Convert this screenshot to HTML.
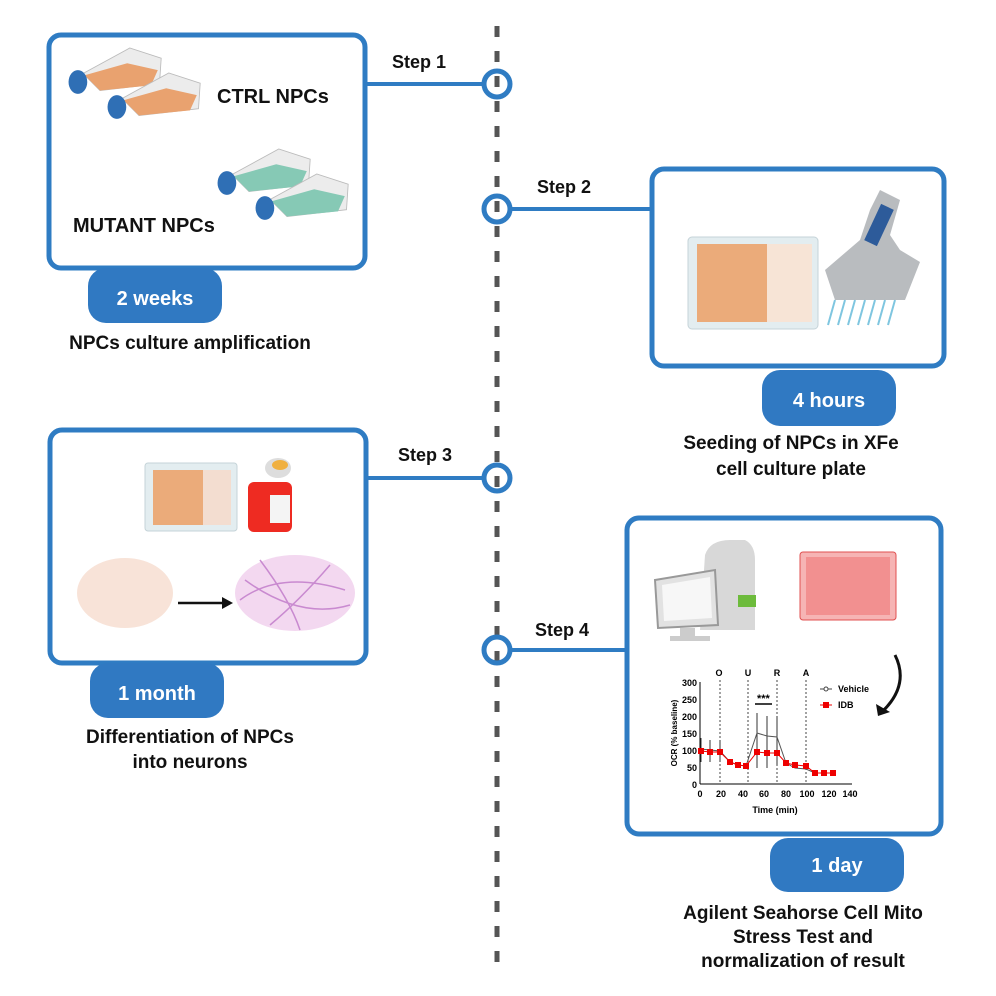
<!DOCTYPE html>
<html><head><meta charset="utf-8"><style>
html,body{margin:0;padding:0;background:#fff}
svg{display:block}
text{font-family:"Liberation Sans",Arial,sans-serif;font-weight:bold}
</style></head><body>
<svg width="996" height="996" viewBox="0 0 996 996" xmlns="http://www.w3.org/2000/svg">
<rect width="996" height="996" fill="#fff"/>
<line x1="497" y1="26" x2="497" y2="968" stroke="#555" stroke-width="5" stroke-dasharray="11 14"/>
<g stroke="#2f7cc3" stroke-width="4" fill="none">
<line x1="366" y1="84" x2="485" y2="84"/>
<line x1="509" y1="209" x2="650" y2="209"/>
<line x1="367" y1="478" x2="485" y2="478"/>
<line x1="509" y1="650" x2="625" y2="650"/>
<circle cx="497" cy="84" r="13" stroke-width="5"/>
<circle cx="497" cy="209" r="13" stroke-width="5"/>
<circle cx="497" cy="478" r="13" stroke-width="5"/>
<circle cx="497" cy="650" r="13" stroke-width="5"/>
</g>
<g font-size="18" fill="#111">
<text x="392" y="68">Step 1</text>
<text x="537" y="193">Step 2</text>
<text x="398" y="461">Step 3</text>
<text x="535" y="636">Step 4</text>
</g>
<g fill="#fff" stroke="#2f7cc3" stroke-width="5">
<rect x="49" y="35" width="316" height="233" rx="12"/>
<rect x="652" y="169" width="292" height="197" rx="12"/>
<rect x="50" y="430" width="316" height="233" rx="12"/>
<rect x="627" y="518" width="314" height="316" rx="12"/>
</g>
<g fill="#3079c2">
<rect x="88" y="268" width="134" height="55" rx="18"/>
<rect x="762" y="370" width="134" height="56" rx="18"/>
<rect x="90" y="663" width="134" height="55" rx="18"/>
<rect x="770" y="838" width="134" height="54" rx="18"/>
</g>
<g fill="#fff" font-size="20" text-anchor="middle">
<text x="155" y="305">2 weeks</text>
<text x="829" y="407">4 hours</text>
<text x="157" y="700">1 month</text>
<text x="837" y="872">1 day</text>
</g>
<g fill="#111" font-size="19" text-anchor="middle">
<text x="190" y="349">NPCs culture amplification</text>
<text x="791" y="449">Seeding of NPCs in XFe</text>
<text x="791" y="475">cell culture plate</text>
<text x="190" y="743">Differentiation of NPCs</text>
<text x="190" y="768">into neurons</text>
<text x="803" y="919">Agilent Seahorse Cell Mito</text>
<text x="803" y="943">Stress Test and</text>
<text x="803" y="967">normalization of result</text>
</g>
<g font-size="20" fill="#111">
<text x="217" y="103">CTRL NPCs</text>
<text x="73" y="232">MUTANT NPCs</text>
</g>
<g>
<g transform="translate(66,48) scale(0.85)"><polygon points="20,30 75,0 112,12 110,42 40,50" fill="#ececec" stroke="#bbb"/><polygon points="22,32 72,18 108,26 100,44 40,50" fill="#e9a26f"/><ellipse cx="14" cy="40" rx="11" ry="14" fill="#2f6fb5"/></g>
<g transform="translate(105,73) scale(0.85)"><polygon points="20,30 75,0 112,12 110,42 40,50" fill="#ececec" stroke="#bbb"/><polygon points="22,32 72,18 108,26 100,44 40,50" fill="#e9a26f"/><ellipse cx="14" cy="40" rx="11" ry="14" fill="#2f6fb5"/></g>
<g transform="translate(215,149) scale(0.85)"><polygon points="20,30 75,0 112,12 110,42 40,50" fill="#ececec" stroke="#bbb"/><polygon points="22,32 72,18 108,26 100,44 40,50" fill="#86c9b5"/><ellipse cx="14" cy="40" rx="11" ry="14" fill="#2f6fb5"/></g>
<g transform="translate(253,174) scale(0.85)"><polygon points="20,30 75,0 112,12 110,42 40,50" fill="#ececec" stroke="#bbb"/><polygon points="22,32 72,18 108,26 100,44 40,50" fill="#86c9b5"/><ellipse cx="14" cy="40" rx="11" ry="14" fill="#2f6fb5"/></g>
</g>
<rect x="688" y="237" width="130" height="92" rx="4" fill="#e3edf0" stroke="#c5d3d8"/>
<rect x="697" y="244" width="70" height="78" fill="#ebab7a"/>
<rect x="767" y="244" width="45" height="78" fill="#f7e4d6"/>
<path d="M880 190 L900 200 L890 235 L900 250 L920 262 L905 300 L835 300 L825 270 L860 240 L870 210 Z" fill="#b9bcbf"/>
<rect x="872" y="205" width="14" height="40" fill="#2d5b9a" transform="rotate(25 879 225)"/>
<g stroke="#7fc6e0" stroke-width="2"><line x1="835" y1="300" x2="828" y2="325"/><line x1="845" y1="300" x2="838" y2="325"/><line x1="855" y1="300" x2="848" y2="325"/><line x1="865" y1="300" x2="858" y2="325"/><line x1="875" y1="300" x2="868" y2="325"/><line x1="885" y1="300" x2="878" y2="325"/><line x1="895" y1="300" x2="888" y2="325"/></g>
<rect x="145" y="463" width="92" height="68" rx="3" fill="#e3edf0" stroke="#c5d3d8"/>
<rect x="153" y="470" width="50" height="55" fill="#ebab7a"/>
<rect x="203" y="470" width="28" height="55" fill="#f3ddd0"/>
<rect x="248" y="482" width="44" height="50" rx="6" fill="#ee2b22"/>
<rect x="270" y="495" width="20" height="28" fill="#f4f4f4"/>
<ellipse cx="278" cy="468" rx="13" ry="10" fill="#ddd"/>
<ellipse cx="280" cy="465" rx="8" ry="5" fill="#f0b040"/>
<ellipse cx="125" cy="593" rx="48" ry="35" fill="#f8e3d8"/>
<line x1="178" y1="603" x2="222" y2="603" stroke="#111" stroke-width="2.5"/>
<polygon points="222,597 233,603 222,609" fill="#111"/>
<ellipse cx="295" cy="593" rx="60" ry="38" fill="#f3d8f0"/>
<g stroke="#c98ad0" stroke-width="1.5" fill="none"><path d="M240 600 Q280 570 345 590"/><path d="M245 580 Q300 620 350 605"/><path d="M260 560 Q290 600 300 630"/><path d="M330 565 Q300 600 270 625"/></g>
<!-- instrument -->
<path d="M705 555 Q710 540 730 540 L745 540 Q755 545 755 560 L755 630 L700 630 Z" fill="#d8d8d8"/>
<rect x="738" y="595" width="18" height="12" fill="#6dbb3c"/>
<polygon points="655,580 715,570 718,625 658,628" fill="#e2e2e2" stroke="#999" stroke-width="2"/>
<polygon points="662,585 710,577 712,618 664,621" fill="#f7f7f7"/>
<rect x="680" y="628" width="15" height="10" fill="#ccc"/>
<rect x="670" y="636" width="40" height="5" fill="#ccc"/>
<rect x="800" y="552" width="96" height="68" rx="3" fill="#f6b4b4" stroke="#e05050"/>
<rect x="806" y="557" width="84" height="58" fill="#f29090"/>
<path d="M895 655 Q910 685 882 712" stroke="#111" stroke-width="3" fill="none"/>
<polygon points="876,704 878,716 890,712" fill="#111"/>
<g font-family="Liberation Sans" font-size="9">
<line x1="700" y1="682" x2="700" y2="784" stroke="#000"/>
<line x1="700" y1="784" x2="852" y2="784" stroke="#000"/>
<g text-anchor="end"><text x="697" y="686" font-weight="normal">300</text><text x="697" y="703" font-weight="normal">250</text><text x="697" y="720" font-weight="normal">200</text><text x="697" y="737" font-weight="normal">150</text><text x="697" y="754" font-weight="normal">100</text><text x="697" y="771" font-weight="normal">50</text><text x="697" y="788" font-weight="normal">0</text></g>
<g text-anchor="middle"><text x="700" y="797" font-weight="normal">0</text><text x="721" y="797" font-weight="normal">20</text><text x="743" y="797" font-weight="normal">40</text><text x="764" y="797" font-weight="normal">60</text><text x="786" y="797" font-weight="normal">80</text><text x="807" y="797" font-weight="normal">100</text><text x="829" y="797" font-weight="normal">120</text><text x="850" y="797" font-weight="normal">140</text>
<text x="775" y="813">Time (min)</text>
<text x="719" y="676" font-weight="normal">O</text><text x="748" y="676" font-weight="normal">U</text><text x="777" y="676" font-weight="normal">R</text><text x="806" y="676" font-weight="normal">A</text></g>
<text transform="translate(677,733) rotate(-90)" text-anchor="middle" font-size="8">OCR (% baseline)</text>
<g stroke="#444" stroke-dasharray="2 2"><line x1="720" y1="680" x2="720" y2="784"/><line x1="748" y1="680" x2="748" y2="784"/><line x1="777" y1="680" x2="777" y2="784"/><line x1="806" y1="680" x2="806" y2="784"/></g>
<g stroke="#333" stroke-width="1"><line x1="701" y1="738" x2="701" y2="762"/><line x1="710" y1="740" x2="710" y2="762"/><line x1="720" y1="740" x2="720" y2="762"/><line x1="757" y1="713" x2="757" y2="768"/><line x1="767" y1="716" x2="767" y2="768"/><line x1="777" y1="716" x2="777" y2="765"/></g>
<polyline points="701,749 710,750 720,751 730,762 738,765 746,766 757,733 767,736 777,737 786,763 795,768 806,769 815,773 824,773 833,773" fill="none" stroke="#555"/>
<polyline points="701,751 710,752 720,752 730,762 738,765 746,766 757,752 767,753 777,753 786,763 795,765 806,766 815,773 824,773 833,773" fill="none" stroke="#e00"/>
<g fill="#e00"><rect x="698" y="748" width="6" height="6"/><rect x="707" y="749" width="6" height="6"/><rect x="717" y="749" width="6" height="6"/><rect x="727" y="759" width="6" height="6"/><rect x="735" y="762" width="6" height="6"/><rect x="743" y="763" width="6" height="6"/><rect x="754" y="749" width="6" height="6"/><rect x="764" y="750" width="6" height="6"/><rect x="774" y="750" width="6" height="6"/><rect x="783" y="760" width="6" height="6"/><rect x="792" y="762" width="6" height="6"/><rect x="803" y="763" width="6" height="6"/><rect x="812" y="770" width="6" height="6"/><rect x="821" y="770" width="6" height="6"/><rect x="830" y="770" width="6" height="6"/></g>
<line x1="755" y1="704" x2="772" y2="704" stroke="#000" stroke-width="1.5"/>
<text x="757" y="702" font-size="11">***</text>
<line x1="820" y1="689" x2="832" y2="689" stroke="#444"/><circle cx="826" cy="689" r="2" fill="#fff" stroke="#444"/>
<text x="838" y="692" font-weight="normal">Vehicle</text>
<line x1="820" y1="705" x2="832" y2="705" stroke="#e00"/><rect x="823" y="702" width="6" height="6" fill="#e00"/>
<text x="838" y="708" font-weight="normal">IDB</text>
</g>
</svg>
</body></html>
